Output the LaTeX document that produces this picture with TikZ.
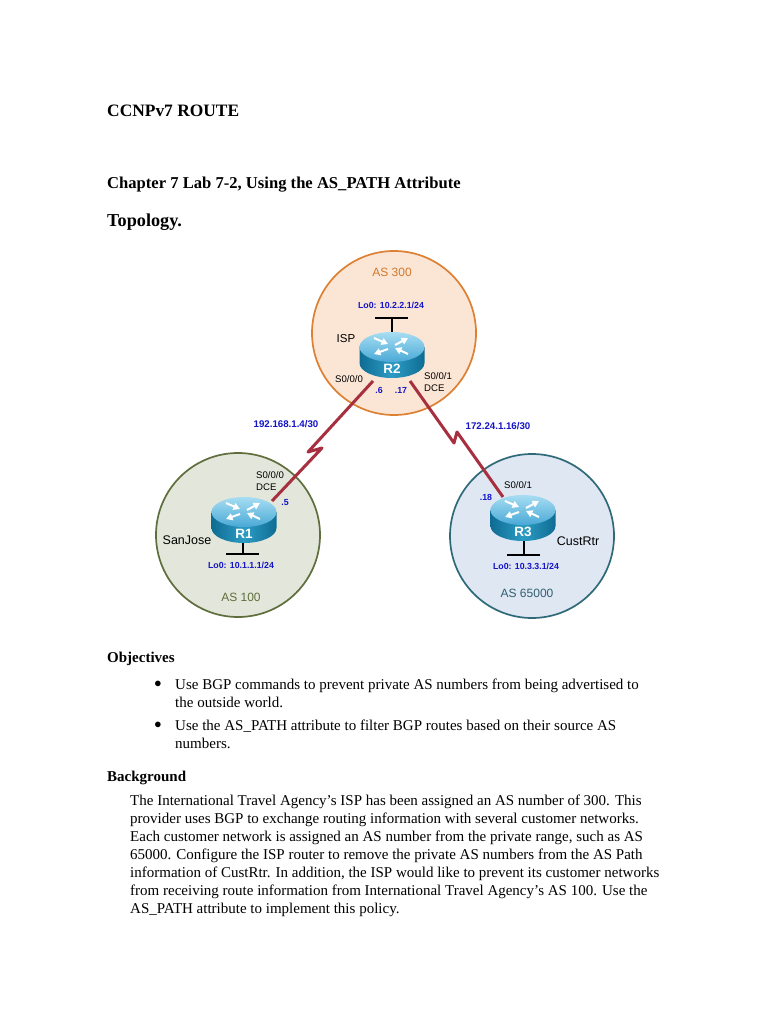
\documentclass[tikz,border=0pt]{standalone}
\usepackage{fontspec}
\setmainfont{Liberation Serif}
\newfontfamily\lsans{Liberation Sans}
\usetikzlibrary{arrows.meta,calc}
\definecolor{linkred}{HTML}{A6303F}
\definecolor{lblue}{HTML}{1414C8}
\definecolor{orangeedge}{HTML}{DD8033}
\definecolor{orangefill}{HTML}{FBE6D6}
\definecolor{olivefill}{HTML}{E3E6DA}
\definecolor{oliveedge}{HTML}{5E6E3C}
\definecolor{tealedge}{HTML}{2F6A78}
\definecolor{bluefill}{HTML}{DFE7F3}
\definecolor{bodydark}{HTML}{0F6C93}
\definecolor{bodylight}{HTML}{2C9CC4}
\definecolor{topdark}{HTML}{49A9D6}
\definecolor{toplight}{HTML}{A7DDF2}
\definecolor{orangetext}{HTML}{D2782C}
\definecolor{olivetext}{HTML}{5E6E3C}
\definecolor{tealtext}{HTML}{2F5F70}
\tikzset{
 x=1pt,y=-1pt,
 ascircle/.style={circle,draw,line width=1.7pt,minimum size=#1,inner sep=0pt},
 bodytxt/.style={font=\fontsize{15}{18}\selectfont,anchor=north west,inner sep=0pt,align=left},
 headtxt/.style={font=\fontsize{17.4}{20}\selectfont\bfseries,anchor=west,inner sep=0pt},
 subtxt/.style={font=\bfseries\fontsize{15}{17}\selectfont,anchor=west,inner sep=0pt},
 bullettxt/.style={font=\fontsize{14}{17}\selectfont,anchor=center,inner sep=0pt},
 iptxt/.style={font=\lsans\fontsize{8.8}{10}\selectfont\bfseries,text=lblue,inner sep=0pt},
 nettxt/.style={font=\lsans\fontsize{9.7}{10}\selectfont\bfseries,text=lblue,inner sep=0pt},
 labtxt/.style={font=\lsans\fontsize{9.6}{12.5}\selectfont,text=black,inner sep=0pt,align=left},
 hosttxt/.style={font=\lsans\fontsize{12.5}{13}\selectfont,text=black,inner sep=0pt},
 astxt/.style={font=\lsans\fontsize{12}{13}\selectfont,inner sep=0pt},
 rtrtxt/.style={font=\lsans\fontsize{13.5}{15}\selectfont\bfseries,text=white,inner sep=0pt},
 seriallink/.style={draw=linkred,line width=3pt,line join=round},
 lobar/.style={draw=black,line width=1.8pt},
 rarrow/.style={draw=white,line width=2pt,-{Triangle[length=6.5pt,width=7pt]}},
}
\newcommand{\routerat}[4]{% name, x, y, label
 \begin{scope}[shift={(#2,#3)}]
  \path[left color=bodydark,right color=bodydark,middle color=bodylight]
    (-32.5,0) -- (-32.5,16) arc[start angle=180,end angle=0,x radius=32.5,y radius=15] -- (32.5,0) -- cycle;
  \path[top color=toplight,bottom color=topdark] (0,0) ellipse[x radius=32.5,y radius=15];
  \draw[rarrow] (3,-2) -- (16,-9);
  \draw[rarrow] (-4,2) -- (-18,7);
  \draw[rarrow] (-18,-9) -- (-4,-3);
  \draw[rarrow] (16,7) -- (3,1);
  \node[rtrtxt] (#1) at (0,22) {#4};
 \end{scope}
}
\begin{document}
\begin{tikzpicture}
\useasboundingbox (0,0) rectangle (768,1024);
\fill[white] (0,0) rectangle (768,1024);
% headings
\node[headtxt] (t1) at (107,111) {CCNPv7 ROUTE};
\node[headtxt,font=\fontsize{16.6}{20}\selectfont\bfseries] (t2) at (107,185) {Chapter 7 Lab 7-2, Using the AS\_PATH Attribute};
\node[headtxt,font=\fontsize{18.2}{20}\selectfont\bfseries] (t3) at (107,222) {Topology.};
% AS circles
\node[ascircle=164pt,draw=orangeedge,fill=orangefill] (as300) at (394,333) {};
\node[ascircle=164pt,draw=oliveedge,fill=olivefill] (as100) at (238,535) {};
\node[ascircle=164pt,draw=tealedge,fill=bluefill] (as65000) at (532,536) {};
\node[astxt,text=orangetext] (as3) at (392,272) {AS 300};
\node[astxt,text=olivetext] (as1) at (241,597) {AS 100};
\node[astxt,text=tealtext] (as6) at (527,593) {AS 65000};
% links
\coordinate (a2) at (373,381); \coordinate (a1) at (272,501);
\coordinate (b2) at (410,381); \coordinate (b3) at (503,497);
\coordinate (k1) at (308,452); \coordinate (k2) at (322,448);
\coordinate (k3) at (454,443); \coordinate (k4) at (457,432);
\draw[seriallink] (a2) -- (k1) -- (k2) -- (a1);
\draw[seriallink] (b2) -- (k3) -- (k4) -- (b3);
% loopbacks
\coordinate (l2a) at (375,318); \coordinate (l2b) at (408,318); \coordinate (l2c) at (392,318); \coordinate (l2d) at (392,335);
\draw[lobar] (l2a) -- (l2b); \draw[lobar] (l2c) -- (l2d);
\coordinate (l1a) at (226,554); \coordinate (l1b) at (259,554); \coordinate (l1c) at (243,554); \coordinate (l1d) at (243,540);
\draw[lobar] (l1a) -- (l1b); \draw[lobar] (l1c) -- (l1d);
\coordinate (l3a) at (507,555); \coordinate (l3b) at (540,555); \coordinate (l3c) at (524,555); \coordinate (l3d) at (524,540);
\draw[lobar] (l3a) -- (l3b); \draw[lobar] (l3c) -- (l3d);
% routers
\routerat{R2}{392}{347}{R2}
\routerat{R1}{244}{512}{R1}
\routerat{R3}{523}{510}{R3}
% labels
\node[iptxt] (lo2) at (391,305) {Lo0: 10.2.2.1/24};
\node[iptxt] (lo1) at (241,565) {Lo0: 10.1.1.1/24};
\node[iptxt] (lo3) at (526,566) {Lo0: 10.3.3.1/24};
\node[nettxt] (n1) at (286,424) {192.168.1.4/30};
\node[nettxt] (n2) at (498,426) {172.24.1.16/30};
\node[hosttxt,font=\lsans\fontsize{11.5}{13}\selectfont] (isp) at (346,339) {ISP};
\node[hosttxt] (sj) at (187,540) {SanJose};
\node[hosttxt] (cr) at (578,541) {CustRtr};
\node[labtxt,anchor=west] (s1) at (335,379) {S0/0/0};
\node[labtxt,anchor=north west] (s2) at (424,372) {S0/0/1\\DCE};
\node[labtxt,anchor=north west] (s3) at (256,471) {S0/0/0\\DCE};
\node[labtxt,anchor=west] (s4) at (504,485) {S0/0/1};
\node[iptxt] (d6) at (379,390) {.6};
\node[iptxt] (d17) at (401,390) {.17};
\node[iptxt] (d5) at (285,503) {.5};
\node[iptxt] (d18) at (486,497) {.18};
% text
\node[subtxt] (obj) at (107,659) {Objectives};
\node[bodytxt] (b1) at (175,679) {Use BGP commands to prevent private AS numbers from being advertised to\\the outside world.};
\node[bodytxt] (b2) at (175,720) {Use the AS\_PATH attribute to filter BGP routes based on their source AS\\numbers.};
\node[bullettxt] (bu1) at (158,684) {$\bullet$};
\node[bullettxt] (bu2) at (158,725) {$\bullet$};
\node[subtxt] (bg) at (107,778) {Background};
\node[bodytxt] (para) at (130,795) {The International Travel Agency’s ISP has been assigned an AS number of 300. This\\provider uses BGP to exchange routing information with several customer networks.\\Each customer network is assigned an AS number from the private range, such as AS\\65000. Configure the ISP router to remove the private AS numbers from the AS Path\\information of CustRtr. In addition, the ISP would like to prevent its customer networks\\from receiving route information from International Travel Agency’s AS 100. Use the\\AS\_PATH attribute to implement this policy.};
\end{tikzpicture}
\end{document}
